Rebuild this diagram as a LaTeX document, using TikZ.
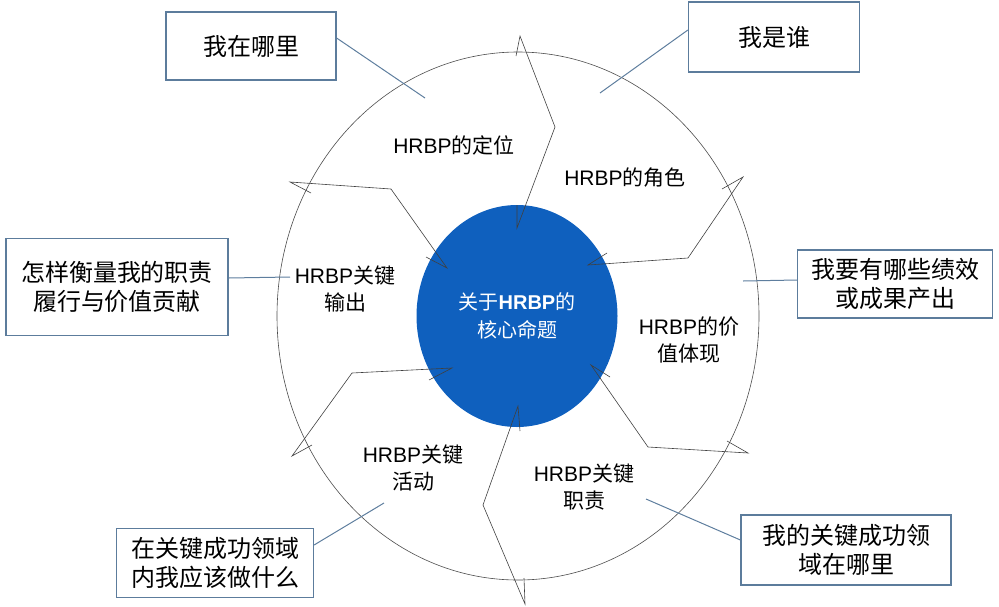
\documentclass[tikz,border=0pt]{standalone}
\usepackage{fontspec}
\usetikzlibrary{shapes.geometric}
\setmainfont{Liberation Sans}
\newfontfamily\cjk{Noto Sans CJK SC}
\newcommand{\hr}{{\rmfamily HRBP}}
\begin{document}
\begin{tikzpicture}[x=1pt,y=-1pt,
 box/.style={draw=boxc,line width=1.2pt,fill=white,align=center,font=\cjk\fontsize{24}{29}\selectfont,inner sep=0pt},
 lab/.style={align=center,font=\cjk\fontsize{21}{27}\selectfont},
 lnk/.style={draw=linkc,line width=1pt},
 spoke/.style={draw=black!75,line width=0.6pt,line join=miter}]
\definecolor{boxc}{HTML}{5C7C9C}
\definecolor{linkc}{HTML}{5E7E9E}
\definecolor{core}{HTML}{0F60BE}
\useasboundingbox (0,0) rectangle (999,606);
\node[draw=black!70,line width=0.6pt,ellipse,minimum width=482pt,minimum height=528pt,inner sep=0pt] (outer) at (518,316) {};
\node[fill=core,ellipse,minimum width=201pt,minimum height=222pt,inner sep=0pt,text=white,align=center,font=\cjk\fontsize{20}{28}\selectfont] (core) at (517,316) {关于{\rmfamily\bfseries HRBP}的\\核心命题};
% spokes
\draw[spoke] (516,56) -- (520,36) -- (555,127) -- (517,228) -- (517,205);
\draw[spoke] (722,189) -- (743,177) -- (688,258) -- (588,265) -- (607,253);
\draw[spoke] (311,193) -- (290,182) -- (391,189) -- (447,268) -- (426,257);
\draw[spoke] (312,445) -- (292,456) -- (352,373) -- (452,368) -- (429,380);
\draw[spoke] (524,578) -- (525,604) -- (483,505) -- (518,406) -- (520,431);
\draw[spoke] (727,441) -- (748,453) -- (648,447) -- (591,365) -- (610,377);
% labels
\node[lab] (l1) at (454,145) {\hr 的定位};
\node[lab] (l2) at (625,178) {\hr 的角色};
\node[lab] (l3) at (345,289) {\hr 关键\\输出};
\node[lab] (l4) at (689,340) {\hr 的价\\值体现};
\node[lab] (l5) at (413,468) {\hr 关键\\活动};
\node[lab] (l6) at (584,487) {\hr 关键\\职责};
% boxes
\node[box,minimum width=170pt,minimum height=68pt] (b1) at (251,46) {我在哪里};
\node[box,minimum width=171pt,minimum height=70pt] (b2) at (774,37) {我是谁};
\node[box,minimum width=222pt,minimum height=97pt] (b3) at (117,287) {怎样衡量我的职责\\履行与价值贡献};
\node[box,minimum width=195pt,minimum height=68pt] (b4) at (895,284) {我要有哪些绩效\\或成果产出};
\node[box,minimum width=197pt,minimum height=69pt] (b5) at (215,563) {在关键成功领域\\内我应该做什么};
\node[box,minimum width=210pt,minimum height=70pt] (b6) at (846,550) {我的关键成功领\\域在哪里};
% links
\coordinate (c1) at (425,98); \coordinate (c2) at (600,93);
\coordinate (c3) at (290,277); \coordinate (c4) at (743,281);
\coordinate (c5) at (384,503); \coordinate (c6) at (646,499);
\draw[lnk] (b1.east |- 0,38) -- (c1);
\draw[lnk] (b2.west |- 0,30) -- (c2);
\draw[lnk] (b3.east |- 0,278) -- (c3);
\draw[lnk] (b4.west |- 0,280) -- (c4);
\draw[lnk] (b5.east |- 0,545) -- (c5);
\draw[lnk] (b6.west |- 0,540) -- (c6);
\end{tikzpicture}
\end{document}
